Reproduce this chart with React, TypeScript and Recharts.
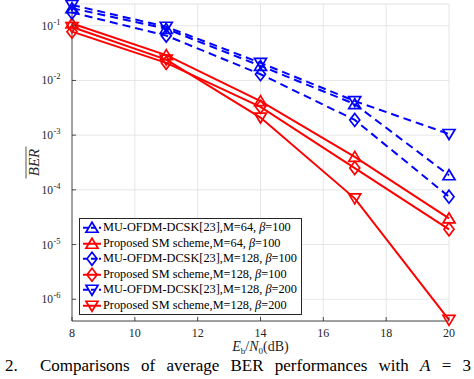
import { CartesianGrid, Line, LineChart, XAxis, YAxis } from 'recharts'

const snr = [8, 11, 14, 17, 20]
const xTicks = [8, 10, 12, 14, 16, 18, 20]
const yTicks = [1e-6, 1e-5, 1e-4, 1e-3, 1e-2, 1e-1]
const yExponents = ['-6', '-5', '-4', '-3', '-2', '-1']
const yMinorTicks = [
  5e-7, 6e-7, 7e-7, 8e-7, 9e-7,
  2e-6, 3e-6, 4e-6, 5e-6, 6e-6, 7e-6, 8e-6, 9e-6,
  2e-5, 3e-5, 4e-5, 5e-5, 6e-5, 7e-5, 8e-5, 9e-5,
  2e-4, 3e-4, 4e-4, 5e-4, 6e-4, 7e-4, 8e-4, 9e-4,
  2e-3, 3e-3, 4e-3, 5e-3, 6e-3, 7e-3, 8e-3, 9e-3,
  2e-2, 3e-2, 4e-2, 5e-2, 6e-2, 7e-2, 8e-2, 9e-2,
  2e-1,
]

const muM64B100 = [0.21, 0.088, 0.0185, 0.0037, 0.000185]
const smM64B100 = [0.11, 0.029, 0.0042, 0.0004, 0.00003]
const muM128B100 = [0.175, 0.066, 0.013, 0.0019, 0.000075]
const smM128B100 = [0.078, 0.021, 0.0033, 0.00025, 0.000019]
const muM128B200 = [0.24, 0.096, 0.021, 0.0042, 0.00105]
const smM128B200 = [0.095, 0.024, 0.0021, 0.00007, 4.2e-7]

const BLUE = '#0000ff'
const RED = '#ff0000'
const FONT = '"Liberation Serif", "Times New Roman", serif'

type Marker = 'up' | 'diamond' | 'down'

const SERIES: { key: string; name: string; beta: string; color: string; marker: Marker; dashed: boolean }[] = [
  { key: 'muM64B100', name: 'MU-OFDM-DCSK[23],M=64, ', beta: '=100', color: BLUE, marker: 'up', dashed: true },
  { key: 'smM64B100', name: 'Proposed SM scheme,M=64, ', beta: '=100', color: RED, marker: 'up', dashed: false },
  { key: 'muM128B100', name: 'MU-OFDM-DCSK[23],M=128, ', beta: '=100', color: BLUE, marker: 'diamond', dashed: true },
  { key: 'smM128B100', name: 'Proposed SM scheme,M=128, ', beta: '=100', color: RED, marker: 'diamond', dashed: false },
  { key: 'muM128B200', name: 'MU-OFDM-DCSK[23],M=128, ', beta: '=200', color: BLUE, marker: 'down', dashed: true },
  { key: 'smM128B200', name: 'Proposed SM scheme,M=128, ', beta: '=200', color: RED, marker: 'down', dashed: false },
]

const data = snr.map((s, i) => ({
  snr: s,
  muM64B100: muM64B100[i],
  smM64B100: smM64B100[i],
  muM128B100: muM128B100[i],
  smM128B100: smM128B100[i],
  muM128B200: muM128B200[i],
  smM128B200: smM128B200[i],
}))

function markerPoints(marker: Marker, cx: number, cy: number) {
  if (marker === 'up') return `${cx},${cy - 5.5} ${cx - 6},${cy + 4.5} ${cx + 6},${cy + 4.5}`
  if (marker === 'down') return `${cx},${cy + 5.5} ${cx - 6},${cy - 4.5} ${cx + 6},${cy - 4.5}`
  return `${cx},${cy - 6.5} ${cx + 5},${cy} ${cx},${cy + 6.5} ${cx - 5},${cy}`
}

function makeDot(marker: Marker, color: string) {
  return (props: any) => {
    const { cx, cy, index } = props
    if (cx == null || cy == null) return <g key={index} />
    return (
      <polygon
        key={index}
        points={markerPoints(marker, cx, cy)}
        fill="none"
        stroke={color}
        strokeWidth={1.7}
      />
    )
  }
}

const textStyle = { fontFamily: FONT }

function YTick(props: any) {
  const { x, y, index } = props
  return (
    <g>
      <line x1={x} x2={x + 4} y1={y} y2={y} stroke="#262626" strokeWidth={0.8} />
      <text x={x - 19} y={y + 4} style={textStyle} fontSize={11.5} fill="#262626" textAnchor="end">
        10
      </text>
      <text x={x - 18.5} y={y - 1} style={textStyle} fontSize={8.5} fill="#262626" textAnchor="start">
        {yExponents[index]}
      </text>
    </g>
  )
}

function MinorTickLeft(props: any) {
  const { x, y } = props
  return <line x1={x} x2={x + 2.5} y1={y} y2={y} stroke="#262626" strokeWidth={0.7} />
}

function RightTick(props: any) {
  const { x, y, payload } = props
  const major = yTicks.includes(payload.value)
  return <line x1={x} x2={x - (major ? 4 : 2.5)} y1={y} y2={y} stroke="#262626" strokeWidth={0.7} />
}

function XTick(props: any) {
  const { x, y, payload } = props
  return (
    <g>
      <line x1={x} x2={x} y1={y} y2={y - 4} stroke="#262626" strokeWidth={0.8} />
      <text x={x} y={y + 16} style={textStyle} fontSize={12} fill="#262626" textAnchor="middle">
        {payload.value}
      </text>
    </g>
  )
}

function TopTick(props: any) {
  const { x, y } = props
  return <line x1={x} x2={x} y1={y} y2={y + 4} stroke="#262626" strokeWidth={0.8} />
}

function YLabel(props: any) {
  const { viewBox } = props
  const cy = viewBox.y + viewBox.height / 2
  const cx = 39
  return (
    <g transform={`translate(${cx},${cy}) rotate(-90)`}>
      <text x={0} y={0} style={textStyle} fontSize={15} fontStyle="italic" fill="#262626" textAnchor="middle">
        BER
      </text>
      <line x1={-16} x2={16} y1={-13} y2={-13} stroke="#262626" strokeWidth={0.8} />
    </g>
  )
}

function XLabel(props: any) {
  const { viewBox } = props
  const cx = viewBox.x + viewBox.width / 2
  return (
    <text x={cx} y={viewBox.y + 30} style={textStyle} fontSize={14} fill="#262626" textAnchor="middle">
      <tspan fontStyle="italic">E</tspan>
      <tspan fontSize={9} dy={2.5}>b</tspan>
      <tspan dy={-2.5}>/</tspan>
      <tspan fontStyle="italic">N</tspan>
      <tspan fontSize={9} dy={2.5}>0</tspan>
      <tspan dy={-2.5}>(dB)</tspan>
    </text>
  )
}

function LegendBox() {
  return (
    <div
      style={{
        position: 'absolute',
        left: 79,
        top: 218,
        border: '1px solid #262626',
        background: '#fff',
        padding: '1px 4px 1px 2px',
        fontFamily: FONT,
        fontSize: 12.3,
        color: '#000',
        lineHeight: '15.5px',
      }}
    >
      {SERIES.map((s) => (
        <div key={s.key} style={{ display: 'flex', alignItems: 'center', whiteSpace: 'nowrap' }}>
          <svg width={20} height={15.5} style={{ marginRight: 1 }}>
            <line
              x1={1}
              x2={19}
              y1={7.75}
              y2={7.75}
              stroke={s.color}
              strokeWidth={2}
              strokeDasharray={s.dashed ? '5 3' : undefined}
            />
            <polygon points={markerPoints(s.marker, 10, 7.75)} fill="none" stroke={s.color} strokeWidth={1.7} />
          </svg>
          <span>
            {s.name}
            <i>β</i>
            {s.beta}
          </span>
        </div>
      ))}
    </div>
  )
}

export default function App() {
  return (
    <div style={{ position: 'absolute', left: 0, top: 0, width: 474, height: 379, background: '#fff', overflow: 'hidden' }}>
      <LineChart width={474} height={379} data={data} margin={{ top: 4, right: 25, bottom: 38, left: 0 }}>
        <CartesianGrid
          yAxisId="minor"
          xAxisId="x"
          vertical={false}
          stroke="#e3e3e3"
          strokeDasharray="1 2"
          strokeWidth={0.8}
        />
        <CartesianGrid yAxisId="y" xAxisId="x" stroke="#e0e0e0" strokeWidth={0.8} />
        <XAxis
          xAxisId="x"
          dataKey="snr"
          type="number"
          domain={[8, 20]}
          ticks={xTicks}
          height={20}
          axisLine={{ stroke: '#262626', strokeWidth: 0.8 }}
          tickLine={false}
          tickSize={0}
          tickMargin={0}
          tick={<XTick />}
          label={{ content: <XLabel /> }}
        />
        <XAxis
          xAxisId="top"
          orientation="top"
          dataKey="snr"
          type="number"
          domain={[8, 20]}
          ticks={xTicks}
          height={0}
          axisLine={{ stroke: '#262626', strokeWidth: 0.8 }}
          tickLine={false}
          tickSize={0}
          tickMargin={0}
          tick={<TopTick />}
        />
        <YAxis
          yAxisId="minor"
          scale="log"
          type="number"
          domain={[4e-7, 0.25]}
          ticks={yMinorTicks}
          width={0}
          axisLine={false}
          tickLine={false}
          tickSize={0}
          tickMargin={0}
          tick={<MinorTickLeft />}
        />
        <YAxis
          yAxisId="y"
          scale="log"
          type="number"
          domain={[4e-7, 0.25]}
          ticks={yTicks}
          width={72}
          axisLine={{ stroke: '#262626', strokeWidth: 0.8 }}
          tickLine={false}
          tickSize={0}
          tickMargin={0}
          tick={<YTick />}
          label={{ content: <YLabel /> }}
        />
        <YAxis
          yAxisId="right"
          orientation="right"
          scale="log"
          type="number"
          domain={[4e-7, 0.25]}
          ticks={[...yTicks, ...yMinorTicks]}
          width={0}
          axisLine={{ stroke: '#262626', strokeWidth: 0.8 }}
          tickLine={false}
          tickSize={0}
          tickMargin={0}
          tick={<RightTick />}
        />
        {SERIES.map((s) => (
          <Line
            key={s.key}
            xAxisId="x"
            yAxisId="y"
            type="linear"
            dataKey={s.key}
            name={s.key}
            stroke={s.color}
            strokeWidth={2}
            strokeDasharray={s.dashed ? '8 5' : undefined}
            dot={makeDot(s.marker, s.color)}
            activeDot={false}
            isAnimationActive={false}
          />
        ))}
      </LineChart>
      <LegendBox />
      <div
        style={{
          position: 'absolute',
          left: 5,
          top: 356,
          fontFamily: FONT,
          fontSize: 17,
          whiteSpace: 'nowrap',
          color: '#000',
        }}
      >
        2.
      </div>
      <div
        style={{
          position: 'absolute',
          left: 40,
          top: 356,
          fontFamily: FONT,
          fontSize: 17,
          whiteSpace: 'nowrap',
          wordSpacing: 7,
          color: '#000',
        }}
      >
        Comparisons of average BER performances with <i>A</i> = 3
      </div>
    </div>
  )
}
